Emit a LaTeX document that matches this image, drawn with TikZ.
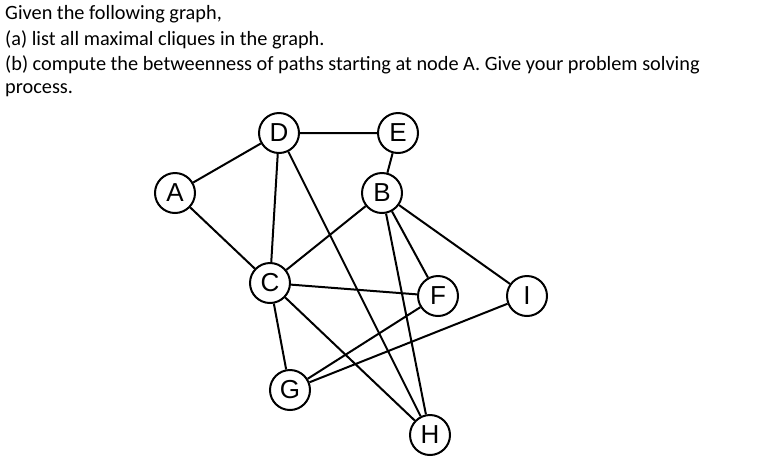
\documentclass[tikz,border=0pt]{standalone}
\usepackage{fontspec}
\setmainfont{Carlito}
\newfontfamily\nodefont{Liberation Sans}
\begin{document}
\begin{tikzpicture}[x=1pt,y=-1pt,
  vert/.style={circle,draw,line width=2pt,minimum size=40pt,inner sep=0pt,font=\nodefont\fontsize{26}{26}\selectfont},
  edge/.style={line width=2pt},
  txt/.style={anchor=west,inner sep=0pt,font=\fontsize{20.3}{20.3}\selectfont}]
\useasboundingbox (0,0) rectangle (776,467);
\node[txt] (t1) at (5,14) {Given the following graph,};
\node[txt] (t2) at (5,40) {(a) list all maximal cliques in the graph.};
\node[txt] (t3) at (5,65) {(b) compute the betweenness of paths starting at node A. Give your problem solving};
\node[txt] (t4) at (5,90) {process.};
\node[vert] (D) at (279,133) {D};
\node[vert] (E) at (398,133) {E};
\node[vert] (A) at (175,193) {A};
\node[vert] (B) at (382,193) {B};
\node[vert] (C) at (270,283) {C};
\node[vert] (F) at (438,296) {F};
\node[vert] (I) at (527,296) {I};
\node[vert] (G) at (290,390) {G};
\node[vert] (H) at (430,435) {H};
\draw[edge] (A)--(D) (A)--(C) (D)--(E) (D)--(C) (D)--(H) (E)--(B)
  (B)--(C) (B)--(F) (B)--(H) (B)--(I) (C)--(F) (C)--(H) (C)--(G) (F)--(G) (I)--(G);
\end{tikzpicture}
\end{document}
